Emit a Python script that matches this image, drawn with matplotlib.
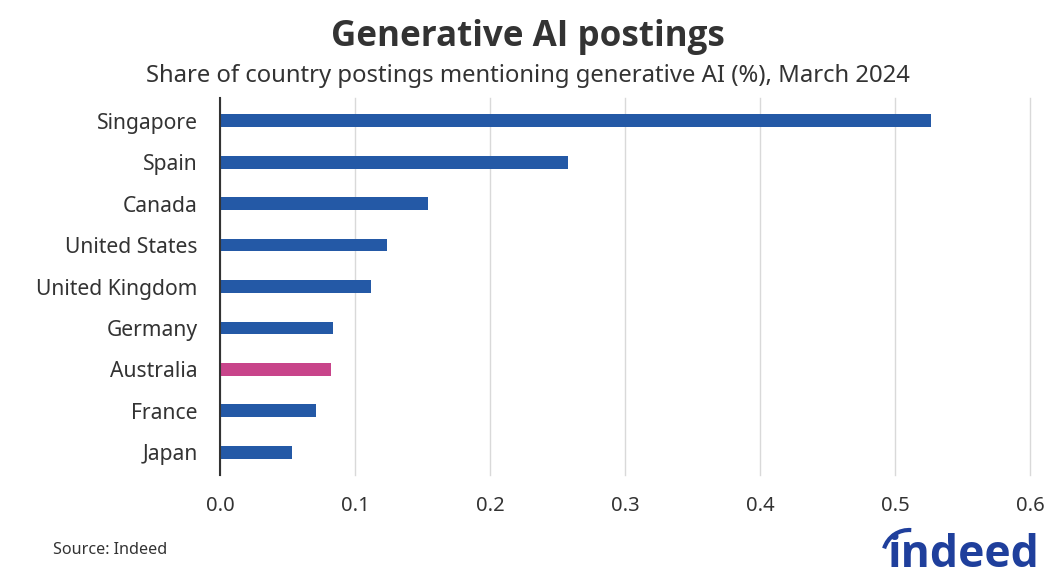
import matplotlib
matplotlib.use("Agg")
import matplotlib.pyplot as plt
from matplotlib.patches import Arc

countries = ["Singapore", "Spain", "Canada", "United States", "United Kingdom",
             "Germany", "Australia", "France", "Japan"]
values = [0.527, 0.258, 0.154, 0.124, 0.112, 0.084, 0.082, 0.071, 0.053]
highlight = "Australia"
xticks = [0.0, 0.1, 0.2, 0.3, 0.4, 0.5, 0.6]

plt.rcParams['font.family'] = ['Noto Sans', 'DejaVu Sans']
txt = '#333333'
blue = '#2459a6'
pink = '#c8448a'

fig = plt.figure(figsize=(10.56, 5.76), dpi=100)
ax = fig.add_axes([220/1056, 1-475/576, 810/1056, 377/576])

colors = [pink if c == highlight else blue for c in countries]
ax.barh(range(len(countries)), values, height=0.31, color=colors, zorder=3)
ax.set_yticks(range(len(countries)))
ax.set_yticklabels(countries, fontsize=15.2, color=txt)
ax.set_ylim(len(countries) - 0.45, -0.55)
ax.set_xlim(0, 0.6)
ax.set_xticks(xticks)
ax.set_xticklabels([f"{t:.1f}" for t in xticks], fontsize=14.5, color=txt)
ax.tick_params(axis='both', length=0)
ax.tick_params(axis='x', pad=15)
ax.tick_params(axis='y', pad=16)
ax.grid(axis='x', color='#d9d9d9', linewidth=1, zorder=0)
for gl in ax.get_xgridlines():
    gl.set_clip_on(False)
for s in ['top', 'right', 'bottom']:
    ax.spines[s].set_visible(False)
ax.spines['left'].set_color('#333333')
ax.spines['left'].set_linewidth(1.5)
ax.spines['left'].set_zorder(4)

fig.text(528/1056, 1-37/576, "Generative AI postings", ha='center', va='center',
         fontsize=25.2, fontweight='bold', family=['Open Sans', 'DejaVu Sans'], color=txt)
fig.text(528/1056, 1-76/576, "Share of country postings mentioning generative AI (%), March 2024",
         ha='center', va='center', fontsize=17.2, color=txt)
fig.text(53/1056, 1-550/576, "Source: Indeed", ha='left', va='center', fontsize=11.6, color=txt)

logo = '#1f3f9c'
fig.text(1040/1056, 1-567/576, "indeed", ha='right', va='baseline', fontsize=32,
         fontweight='bold', family=['Open Sans', 'DejaVu Sans'], color=logo)
arc = Arc((909, 576-556), 52, 52, theta1=85, theta2=163, transform=None,
          color=logo, linewidth=3)
fig.patches.append(arc)

fig.savefig("out.png", dpi=100)
